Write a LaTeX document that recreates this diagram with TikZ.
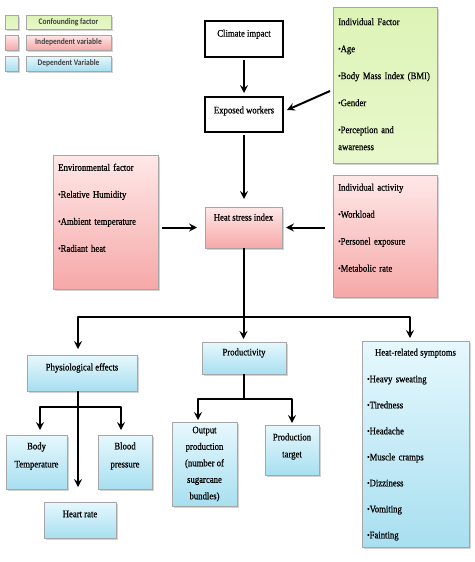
\documentclass[tikz,border=0pt]{standalone}
\usepackage{graphicx}
\usepackage{fontspec}
\setmainfont[FakeStretch=0.87,FakeBold=0.6]{Liberation Serif}
\newfontfamily\legendfont[FakeStretch=0.88]{Carlito Bold}
\usetikzlibrary{arrows.meta,shadows,calc}
\newcommand{\mybul}{\raisebox{0.15ex}{\scalebox{0.8}{\textbullet}}}
\definecolor{gtop}{HTML}{DCF3B6}
\definecolor{gbot}{HTML}{E9F8CC}
\definecolor{rtop}{HTML}{FFE8E8}
\definecolor{rbot}{HTML}{F6A8A8}
\definecolor{btop}{HTML}{E6F8FD}
\definecolor{bbot}{HTML}{A8DFF0}
\tikzset{
  shad/.style={drop shadow={shadow xshift=1.5pt,shadow yshift=-1.5pt,opacity=0.35}},
  plainbox/.style={draw=black,line width=1.8pt,fill=white,anchor=north west,inner sep=0pt,outer sep=0pt},
  grnbox/.style={draw=black!35,line width=0.5pt,top color=gtop,bottom color=gbot,shad,anchor=north west,inner sep=0pt,outer sep=0pt},
  redbox/.style={draw=black!35,line width=0.5pt,top color=rtop,bottom color=rbot,shad,anchor=north west,inner sep=0pt,outer sep=0pt},
  bluebox/.style={draw=black!35,line width=0.5pt,top color=btop,bottom color=bbot,shad,anchor=north west,inner sep=0pt,outer sep=0pt},
  txt/.style={inner sep=0pt,font=\fontsize{10}{12}\selectfont,text=black},
  listtxt/.style={inner sep=0pt,text width=#1,align=left,font=\fontsize{10}{27}\selectfont},
  legtxt/.style={inner sep=0pt,font=\legendfont\fontsize{8.5}{10}\selectfont,text=black!75},
  conn/.style={line width=2pt,line join=round},
  arr/.style={conn,-{Stealth[length=8pt,width=8pt,inset=3pt]}},
}
\begin{document}
\begin{tikzpicture}[x=1pt,y=-1pt]
\useasboundingbox (0,0) rectangle (474,562);

% legend
\node[grnbox,minimum width=13pt,minimum height=14pt] (lg1) at (5,15) {};
\node[redbox,minimum width=13pt,minimum height=15pt] (lr1) at (5,35) {};
\node[bluebox,minimum width=13pt,minimum height=15pt] (lb1) at (5,56) {};
\node[grnbox,minimum width=85pt,minimum height=14pt,label={[legtxt]center:Confounding factor}] (lg2) at (26,15) {};
\node[redbox,minimum width=85pt,minimum height=15pt,label={[legtxt]center:Independent variable}] (lr2) at (26,35) {};
\node[bluebox,minimum width=85pt,minimum height=15pt,label={[legtxt]center:Dependent Variable}] (lb2) at (26,56) {};

% top chain
\node[plainbox,minimum width=78pt,minimum height=36pt,
  label={[txt,anchor=north,yshift=-8.5pt]north:Climate impact}] (climate) at (205,21) {};
\node[plainbox,minimum width=78pt,minimum height=35pt,
  label={[txt,yshift=3.5pt]center:Exposed workers}] (exposed) at (205,97) {};

\node[grnbox,minimum width=104pt,minimum height=156pt,
  label={[listtxt=100pt,anchor=north west,xshift=5pt,yshift=-11pt]north west:{Individual Factor\\
  \mybul Age\\
  \mybul Body Mass Index (BMI)\\
  \mybul Gender\\
  \mybul Perception and\\[-10pt]
  awareness}}] (indf) at (333,7) {};

\node[redbox,minimum width=105pt,minimum height=134pt,
  label={[listtxt=100pt,anchor=north west,xshift=5pt,yshift=-8.5pt]north west:{Environmental factor\\
  \mybul Relative Humidity\\
  \mybul Ambient temperature\\
  \mybul Radiant heat}}] (env) at (53,155) {};

\node[redbox,minimum width=77pt,minimum height=41pt,
  label={[txt,anchor=north,yshift=-6.5pt]north:Heat stress index}] (hsi) at (205,207) {};

\node[redbox,minimum width=104pt,minimum height=122pt,
  label={[listtxt=100pt,anchor=north west,xshift=5pt,yshift=-8.5pt]north west:{Individual activity\\
  \mybul Workload\\
  \mybul Personel exposure\\
  \mybul Metabolic rate}}] (iact) at (333,175) {};

% dependent
\node[bluebox,minimum width=110pt,minimum height=36pt,
  label={[txt,yshift=5pt]center:Physiological effects}] (phys) at (27,355) {};
\node[bluebox,minimum width=84pt,minimum height=32pt,
  label={[txt,yshift=5pt]center:Productivity}] (prod) at (202,342) {};
\node[bluebox,minimum width=107pt,minimum height=206pt,
  label={[txt,anchor=north,yshift=-7.5pt]north:Heat-related symptoms},
  label={[listtxt=100pt,font=\fontsize{10}{26}\selectfont,anchor=north west,xshift=5pt,yshift=-34.5pt]north west:{\mybul Heavy sweating\\
  \mybul Tiredness\\
  \mybul Headache\\
  \mybul Muscle cramps\\
  \mybul Dizziness\\
  \mybul Vomiting\\
  \mybul Fainting}}] (hrs) at (362,341) {};

\node[bluebox,minimum width=61pt,minimum height=54pt,
  label={[txt,align=center,font=\fontsize{10}{18}\selectfont,yshift=6pt]center:Body\\Temperature}] (bodyT) at (6,435) {};
\node[bluebox,minimum width=54pt,minimum height=54pt,
  label={[txt,align=center,font=\fontsize{10}{18}\selectfont,yshift=6pt]center:Blood\\pressure}] (bloodP) at (98,435) {};
\node[bluebox,minimum width=72pt,minimum height=36pt,
  label={[txt,yshift=6pt]center:Heart rate}] (heart) at (44,502) {};

\node[bluebox,minimum width=65pt,minimum height=84pt,
  label={[txt,align=center,font=\fontsize{10}{16.5}\selectfont]center:Output\\production\\(number of\\sugarcane\\bundles)}] (output) at (172,422) {};
\node[bluebox,minimum width=54pt,minimum height=50pt,
  label={[txt,align=center,font=\fontsize{10}{17}\selectfont,yshift=3.5pt]center:Production\\target}] (target) at (265,425) {};

% connectors
\draw[arr,shorten <=3pt,shorten >=4pt] (climate.south) -- (exposed.north);
\draw[arr] ($(indf.west)+(-3,6)$) -- ($(exposed.east)+(4,-4.5)$);
\draw[arr,shorten <=3pt,shorten >=8pt] (exposed.south) -- (exposed.south |- hsi.north);
\draw[arr,shorten <=4pt,shorten >=8pt] (env.east |- hsi.west) -- (hsi.west);
\draw[arr,shorten <=8pt,shorten >=4pt] (iact.west |- hsi.east) -- (hsi.east);

\coordinate (busL) at (78,317);
\coordinate (busR) at (410,317);
\draw[arr,shorten >=3pt] (hsi.south) -- (hsi.south |- prod.north);
\draw[arr,shorten >=6pt] (busR) -- (busL) -- (busL |- phys.north);
\draw[arr,shorten >=3pt] (busL) -- (busR) -- (busR |- hrs.north);

\coordinate (physx) at ($(phys.south)+(-4,0)$);
\coordinate (pbL) at (40,407);
\coordinate (pbR) at (121,407);
\draw[arr,shorten >=15pt] (physx) -- (physx |- heart.north);
\draw[arr,shorten >=5pt] (pbR) -- (pbL) -- (pbL |- bodyT.north);
\draw[arr,shorten >=5pt] (pbL) -- (pbR) -- (pbR |- bloodP.north);

\coordinate (qL) at (198,399);
\coordinate (qR) at (292,399);
\draw[conn] (prod.south) -- (prod.south |- qL);
\draw[arr,shorten >=2pt] (qR) -- (qL) -- (qL |- output.north);
\draw[arr,shorten >=2pt] (qL) -- (qR) -- (qR |- target.north);
\end{tikzpicture}
\end{document}
